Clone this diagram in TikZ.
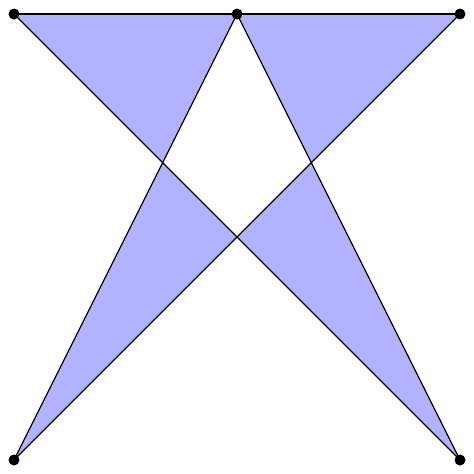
\documentclass[tikz,border=0pt]{standalone}
\begin{document}
\begin{tikzpicture}[x=1pt,y=-1pt,
  edge/.style={line width=1.3pt,black},
  dot/.style={circle,fill=black,inner sep=0pt,minimum size=11pt},
  shade/.style={fill=blue!30}]
\useasboundingbox (0,0) rectangle (474,474);
\coordinate (TL) at (14,14);
\coordinate (TM) at (237,14);
\coordinate (TR) at (460,14);
\coordinate (BL) at (14,460);
\coordinate (BR) at (460,460);
\coordinate (P) at (162.67,162.67);
\coordinate (Q) at (311.33,162.67);
\coordinate (C) at (237,237);
\fill[shade] (TL) -- (TM) -- (P) -- cycle;
\fill[shade] (TM) -- (TR) -- (Q) -- cycle;
\fill[shade] (P) -- (C) -- (BL) -- cycle;
\fill[shade] (Q) -- (C) -- (BR) -- cycle;
\draw[edge] (TL) -- (TR);
\draw[edge] (TL) -- (BR);
\draw[edge] (TR) -- (BL);
\draw[edge] (TM) -- (BL);
\draw[edge] (TM) -- (BR);
\node[dot] (nTL) at (TL) {};
\node[dot] (nTM) at (TM) {};
\node[dot] (nTR) at (TR) {};
\node[dot] (nBL) at (BL) {};
\node[dot] (nBR) at (BR) {};
\end{tikzpicture}
\end{document}
